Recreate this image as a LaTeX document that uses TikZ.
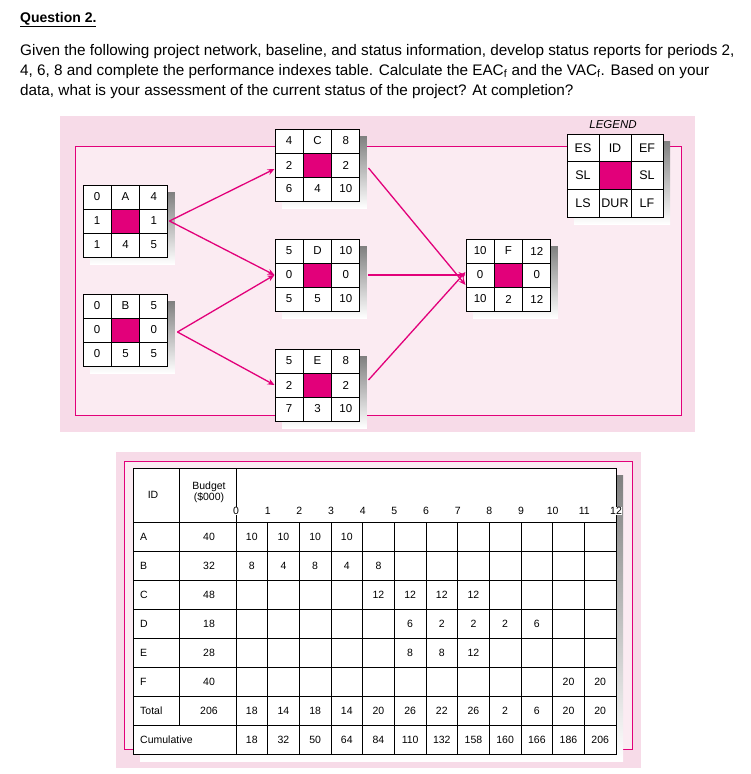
\documentclass[tikz,border=0pt]{standalone}
\usepackage{fontspec}
\setmainfont{Liberation Sans}
\usetikzlibrary{arrows.meta}
\definecolor{mag}{HTML}{E2007A}
\definecolor{panel}{HTML}{F7DBE8}
\definecolor{inner}{HTML}{FBEBF2}
\definecolor{shade}{HTML}{B5B5B5}
\tikzset{
  arr/.style={draw=mag,line width=1.3pt,-{Stealth[length=7pt,width=6pt]}},
  frame/.style={draw=mag,line width=1pt},
  celltxt/.style={font=\fontsize{11.5}{12}\selectfont,inner sep=0pt},
  tabtxt/.style={font=\fontsize{10.5}{11}\selectfont,inner sep=0pt},
  para/.style={anchor=base west,inner sep=0pt,font=\fontsize{15.3}{17}\selectfont}
}
\def\cw{28.33}\def\ch{24}
\newcommand\netbox[7]{%
\begin{scope}[shift={(#2,#3)}]
\fill[shade] (7,7) rectangle ({3*\cw+7},{3*\ch+7});
\fill[white] (0,0) rectangle ({3*\cw},{3*\ch});
\fill[mag] (\cw,\ch) rectangle ({2*\cw},{2*\ch});
\node[draw,line width=1pt,minimum width={3*\cw},minimum height={3*\ch},inner sep=0pt] (#1) at ({1.5*\cw},{1.5*\ch}) {};
\draw[line width=0.9pt] (\cw,0)--(\cw,{3*\ch}) ({2*\cw},0)--({2*\cw},{3*\ch}) (0,\ch)--({3*\cw},\ch) (0,{2*\ch})--({3*\cw},{2*\ch});
\foreach \t [count=\i] in {#4} \node[celltxt] at ({(\i-0.5)*\cw},{0.5*\ch}) {\t};
\node[celltxt] at ({0.5*\cw},{1.5*\ch}) {#5};
\node[celltxt] at ({2.5*\cw},{1.5*\ch}) {#6};
\foreach \t [count=\i] in {#7} \node[celltxt] at ({(\i-0.5)*\cw},{2.5*\ch}) {\t};
\end{scope}}
\begin{document}
\begin{tikzpicture}[x=1pt,y=-1pt]
\useasboundingbox (0,0) rectangle (751,774);
% text
\node[anchor=base west,inner sep=0pt,font=\fontsize{14}{16}\selectfont\bfseries] (title) at (20,22) {\underline{Question 2.}};
\node[para] (l1) at (20,55) {Given the following project network, baseline, and status information, develop status reports for periods 2,};
\node[para] (l2) at (20,75) {4, 6, 8 and complete the performance indexes table. Calculate the EAC\textsubscript{f} and the VAC\textsubscript{f}. Based on your};
\node[para] (l3) at (20,95) {data, what is your assessment of the current status of the project? At completion?};
% network panel
\fill[panel] (60,116) rectangle (695,432);
\fill[inner] (75,146) rectangle (681,415);
\draw[frame] (75,146) rectangle (681,415);
\netbox{A}{83}{185}{0,A,4}{1}{1}{1,4,5}
\netbox{B}{83}{294}{0,B,5}{0}{0}{0,5,5}
\netbox{C}{275}{129}{4,C,8}{2}{2}{6,4,10}
\netbox{D}{275}{239}{5,D,10}{0}{0}{5,5,10}
\netbox{E}{275}{349}{5,E,8}{2}{2}{7,3,10}
\netbox{F}{466}{239}{10,F,12}{0}{0}{10,2,12}
\def\cw{32}\def\ch{27.7}
\tikzset{celltxt/.style={font=\fontsize{12.5}{13}\selectfont,inner sep=0pt}}
\netbox{legend}{567}{134}{ES,ID,EF}{SL}{SL}{LS,DUR,LF}
\node[font=\fontsize{11.5}{12}\selectfont\itshape,inner sep=0pt] (legt) at (613,125) {LEGEND};
\draw[arr] ([xshift=1pt]A.east) -- ([yshift=-4pt]C.west);
\draw[arr] ([xshift=1pt]A.east) -- (D.west);
\draw[arr] ([xshift=9pt,yshift=-2pt]B.east) -- (D.west);
\draw[arr] ([xshift=9pt,yshift=-2pt]B.east) -- (E.west);
\draw[arr] ([xshift=8pt,yshift=-3pt]C.east) -- ([yshift=-10pt]F.west);
\draw[arr] ([xshift=8pt]D.east) -- (F.west);
\draw[arr] ([xshift=8pt,yshift=5pt]E.east) -- ([yshift=3pt]F.west);
% table panel
\fill[panel] (116,452) rectangle (641,768);
\fill[inner] (124,461) rectangle (632,749);
\draw[frame] (124,461) rectangle (632,749);
\fill[shade] (140,475) rectangle (623,761);
\fill[white] (133,468) rectangle (616,754);
\draw[line width=1pt] (133,468) rectangle (616,754);
\draw[line width=0.8pt] (179,468)--(179,725) (236,468)--(236,754);
\foreach \k in {1,...,11} \draw[line width=0.8pt] ({236+31.67*\k},522)--({236+31.67*\k},754);
\foreach \r in {0,...,7} \draw[line width=0.8pt] (133,{522+29*\r})--(616,{522+29*\r});
\node[tabtxt] (hid) at (153,495) {ID};
\node[tabtxt,align=center] (hbud) at (209,492) {Budget\\(\$000)};
\foreach \k in {0,...,12} \node[tabtxt,fill=white,inner sep=0.5pt] at ({236+31.67*\k},511) {\k};
\newcommand\trow[4]{%
\node[tabtxt,anchor=west] at (140,{536.5+29*#1}) {#2};
\node[tabtxt] at (209,{536.5+29*#1}) {#3};
\foreach \v [count=\i from 0] in {#4} \node[tabtxt] at ({251.8+31.67*\i},{536.5+29*#1}) {\v};}
\trow{0}{A}{40}{10,10,10,10,,,,,,,,}
\trow{1}{B}{32}{8,4,8,4,8,,,,,,,}
\trow{2}{C}{48}{,,,,12,12,12,12,,,,}
\trow{3}{D}{18}{,,,,,6,2,2,2,6,,}
\trow{4}{E}{28}{,,,,,8,8,12,,,,}
\trow{5}{F}{40}{,,,,,,,,,,20,20}
\trow{6}{Total}{206}{18,14,18,14,20,26,22,26,2,6,20,20}
\trow{7}{Cumulative}{}{18,32,50,64,84,110,132,158,160,166,186,206}
\end{tikzpicture}
\end{document}
